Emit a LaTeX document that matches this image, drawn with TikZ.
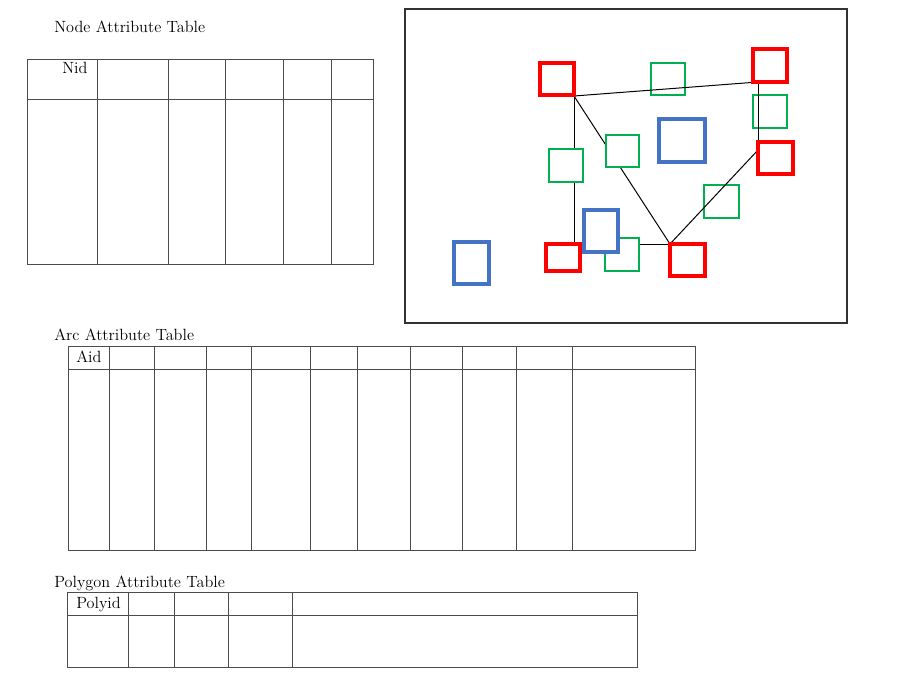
\documentclass[tikz,border=0pt]{standalone}
\definecolor{redc}{HTML}{FF0000}
\definecolor{greenc}{HTML}{00B050}
\definecolor{bluec}{HTML}{4472C4}
\begin{document}
\begin{tikzpicture}[x=0.75pt,y=-0.75pt,
  grid/.style={draw=black!70, line width=0.6pt},
  lbl/.style={anchor=base west, inner sep=0pt, font=\fontsize{12.2}{14}\selectfont},
  redsq/.style={draw=redc, line width=2.3pt},
  greensq/.style={draw=greenc, line width=1.1pt},
  greenfill/.style={draw=greenc, fill=white, line width=1.1pt},
  bluesq/.style={draw=bluec, line width=3pt},
  bluefill/.style={draw=bluec, fill=white, line width=3pt},
  edgeline/.style={draw=black, line width=0.75pt},
  frame/.style={draw=black!80, line width=1.1pt}]
\useasboundingbox (0,0) rectangle (919,674);
\fill[white] (0,0) rectangle (919,674);

% Node attribute table
\node[lbl] (ntitle) at (54,33) {Node Attribute Table};
\draw[grid] (27,59) rectangle (373,264);
\draw[grid] (27,99) -- (373,99);
\foreach \x in {97,168,225,283,331} \draw[grid] (\x,59) -- (\x,264);
\node[lbl] (nid) at (62,74) {Nid};

% Arc attribute table
\node[lbl] (atitle) at (54,340) {Arc Attribute Table};
\draw[grid] (68,346) rectangle (695,550);
\draw[grid] (68,369) -- (695,369);
\foreach \x in {109,154,206,251,310,357,410,462,516,572} \draw[grid] (\x,346) -- (\x,550);
\node[lbl] (aid) at (76,362) {Aid};

% Polygon attribute table
\node[lbl] (ptitle) at (54,587) {Polygon Attribute Table};
\draw[grid] (67,592) rectangle (637,667);
\draw[grid] (67,615) -- (637,615);
\foreach \x in {128,174,228,292} \draw[grid] (\x,592) -- (\x,667);
\node[lbl] (pid) at (76,608) {Polyid};

% Map frame
\draw[frame] (405,9) rectangle (847,323);

% green squares under lines
\draw[greensq] (651,63) rectangle (685,95);
\draw[greensq] (753,95) rectangle (787,128);
\draw[greensq] (704,185) rectangle (739,218);

% vertices and arcs
\coordinate (v1) at (574,96);
\coordinate (v2) at (758,82);
\coordinate (v3) at (758,150);
\coordinate (v4) at (670,244);
\coordinate (v5) at (574,244);
\draw[edgeline] (v1) -- (v2);
\draw[edgeline] (v2) -- (v3);
\draw[edgeline] (v3) -- (v4);
\draw[edgeline] (v1) -- (v4);
\draw[edgeline] (v1) -- (v5);
\draw[edgeline] (v5) -- (v4);

% squares above lines
\draw[greenfill] (606,135) rectangle (639,167);
\draw[greenfill] (549,149) rectangle (583,182);
\draw[greenfill] (605,238) rectangle (639,271);
\draw[bluefill] (584,210) rectangle (618,252);
\draw[bluesq] (659,119) rectangle (705,162);
\draw[bluesq] (454,242) rectangle (489,284);

% red squares
\draw[redsq] (540,63) rectangle (574,95);
\draw[redsq] (753,49) rectangle (787,82);
\draw[redsq] (758,142) rectangle (793,174);
\draw[redsq] (546,244) rectangle (580,271);
\draw[redsq] (670,244) rectangle (705,276);
\end{tikzpicture}
\end{document}
